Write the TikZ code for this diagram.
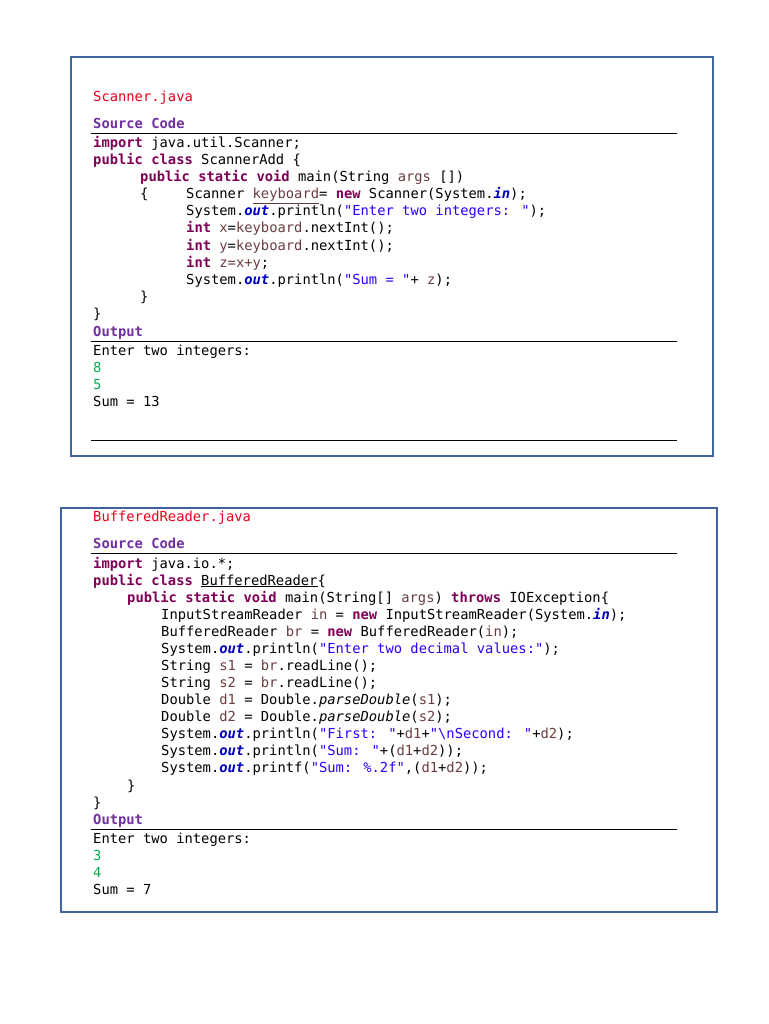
\documentclass[tikz,border=0pt]{standalone}
\usepackage{fontspec}
\newfontfamily\code{DejaVu Sans Mono}
\definecolor{kwc}{HTML}{7F0055}
\definecolor{vrc}{HTML}{6A3E3E}
\definecolor{stc}{HTML}{2A00FF}
\definecolor{foc}{HTML}{0000C0}
\definecolor{ttl}{HTML}{E8001C}
\definecolor{sec}{HTML}{7030A0}
\definecolor{grn}{HTML}{00B050}
\definecolor{frm}{HTML}{41639E}
\newcommand{\kw}[1]{\textcolor{kwc}{\bfseries #1}}
\newcommand{\vr}[1]{\textcolor{vrc}{#1}}
\newcommand{\st}[1]{\textcolor{stc}{#1}}
\newcommand{\fo}[1]{\textcolor{foc}{\bfseries\itshape #1}}
\tikzset{ln/.style={anchor=base west,inner sep=0pt,font=\code\fontsize{13.8}{16}\selectfont},
 frame/.style={draw=frm,line width=1.3pt},
 rule/.style={draw=black,line width=0.8pt}}
\begin{document}
\begin{tikzpicture}[x=1pt,y=-1pt]
\useasboundingbox (0,0) rectangle (768,1024);
\fill[white] (0,0) rectangle (768,1024);
% box 1
\draw[frame] (71,57) rectangle (713,456);
\node[ln,text=ttl] (t1) at (93,102) {Scanner.java};
\node[ln,text=sec] (s1) at (93,129) {\bfseries Source Code};
\draw[rule] (91,133) -- (677,133);
\node[ln] (a1) at (93,148) {\kw{import} java.util.Scanner;};
\node[ln] (a2) at (93,165) {\kw{public} \kw{class} ScannerAdd \{};
\node[ln] (a3) at (140,182) {\kw{public} \kw{static} \kw{void} main(String \vr{args} [])};
\node[ln] (a4) at (140,199) {\{};
\node[ln] (a4b) at (186,199) {Scanner \vr{\underline{keyboard}}= \kw{new} Scanner(System.\fo{in});};
\node[ln] (a5) at (186,216) {System.\fo{out}.println(\st{"Enter two integers: "});};
\node[ln] (a6) at (186,233) {\kw{int} \vr{x}=\vr{keyboard}.nextInt();};
\node[ln] (a7) at (186,250) {\kw{int} \vr{y}=\vr{keyboard}.nextInt();};
\node[ln] (a8) at (186,267) {\kw{int} \vr{z=x+y};};
\node[ln] (a9) at (186,284) {System.\fo{out}.println(\st{"Sum = "}+ \vr{z});};
\node[ln] (a10) at (140,301) {\}};
\node[ln] (a11) at (93,318) {\}};
\node[ln,text=sec] (o1) at (93,336) {\bfseries Output};
\draw[rule] (91,341) -- (677,341);
\node[ln] (b1) at (93,355) {Enter two integers:};
\node[ln,text=grn] (b2) at (93,372) {8};
\node[ln,text=grn] (b3) at (93,389) {5};
\node[ln] (b4) at (93,406) {Sum = 13};
\draw[rule] (91,440) -- (677,440);
% box 2
\draw[frame] (61,508) rectangle (717,912);
\node[ln,text=ttl] (t2) at (93,521) {BufferedReader.java};
\node[ln,text=sec] (s2) at (93,548) {\bfseries Source Code};
\draw[rule] (91,553) -- (677,553);
\node[ln] (c1) at (93,568) {\kw{import} java.io.*;};
\node[ln] (c2) at (93,585) {\kw{public} \kw{class} \underline{BufferedReader}\{};
\node[ln] (c3) at (127,602) {\kw{public} \kw{static} \kw{void} main(String[] \vr{args}) \kw{throws} IOException\{};
\node[ln] (c4) at (161,619) {InputStreamReader \vr{in} = \kw{new} InputStreamReader(System.\fo{in});};
\node[ln] (c5) at (161,636) {BufferedReader \vr{br} = \kw{new} BufferedReader(\vr{in});};
\node[ln] (c6) at (161,653) {System.\fo{out}.println(\st{"Enter two decimal values:"});};
\node[ln] (c7) at (161,670) {String \vr{s1} = \vr{br}.readLine();};
\node[ln] (c8) at (161,687) {String \vr{s2} = \vr{br}.readLine();};
\node[ln] (c9) at (161,704) {Double \vr{d1} = Double.{\itshape parseDouble}(\vr{s1});};
\node[ln] (c10) at (161,721) {Double \vr{d2} = Double.{\itshape parseDouble}(\vr{s2});};
\node[ln] (c11) at (161,738) {System.\fo{out}.println(\st{"First: "}+\vr{d1}+\st{"\textbackslash nSecond: "}+\vr{d2});};
\node[ln] (c12) at (161,755) {System.\fo{out}.println(\st{"Sum: "}+(\vr{d1}+\vr{d2}));};
\node[ln] (c13) at (161,772) {System.\fo{out}.printf(\st{"Sum: \%.2f"},(\vr{d1}+\vr{d2}));};
\node[ln] (c14) at (127,790) {\}};
\node[ln] (c15) at (93,807) {\}};
\node[ln,text=sec] (o2) at (93,824) {\bfseries Output};
\draw[rule] (91,829) -- (677,829);
\node[ln] (d1) at (93,843) {Enter two integers:};
\node[ln,text=grn] (d2) at (93,860) {3};
\node[ln,text=grn] (d3) at (93,877) {4};
\node[ln] (d4) at (93,894) {Sum = 7};
\end{tikzpicture}
\end{document}
